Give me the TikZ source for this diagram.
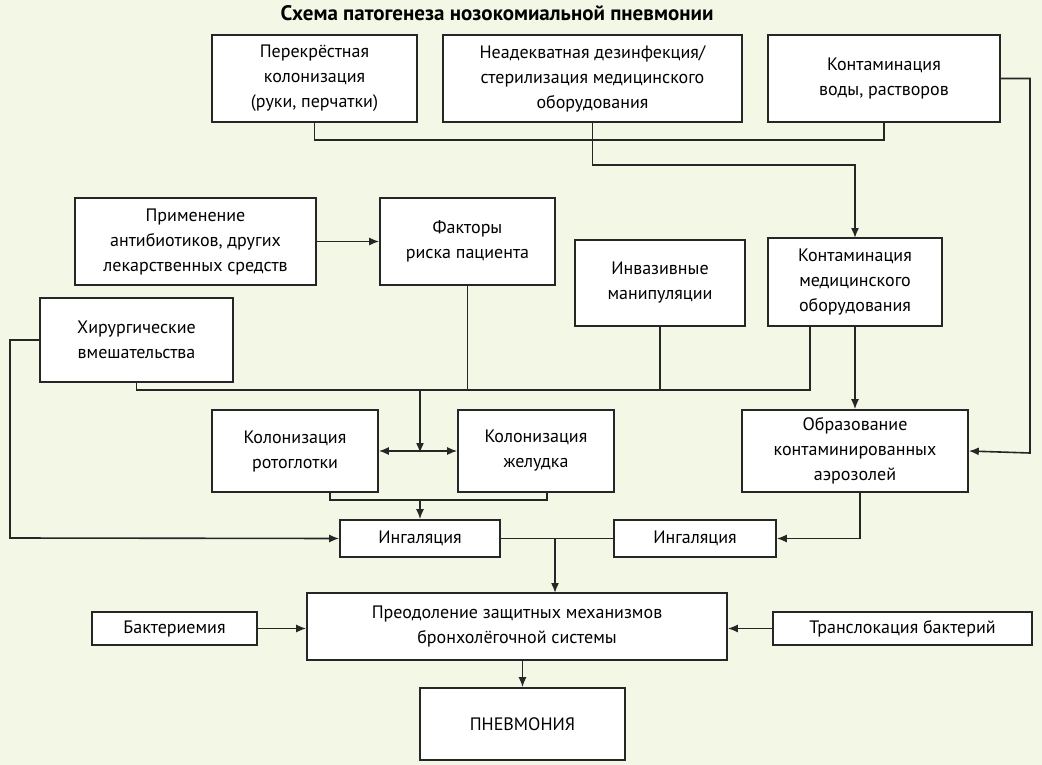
\documentclass[tikz,border=0pt]{standalone}
\usepackage{fontspec}
\setmainfont{PT Sans}
\usetikzlibrary{arrows.meta,positioning}
\definecolor{bgcol}{HTML}{F3F8E6}
\tikzset{box/.style={draw=black!85,line width=1.6pt,fill=white,align=center,inner sep=2pt,font=\fontsize{18}{25}\selectfont},
  flow/.style={line width=1.6pt,black!85},
  arr/.style={flow,-{Latex[length=10pt,width=8pt]}}}
\newcommand{\bx}[6]{\node[box,minimum width=#4-#2,minimum height=#5-#3] (#1) at ({(#2+#4)/2},{(#3+#5)/2}) {#6};}
\begin{document}
\begin{tikzpicture}[x=1pt,y=-1pt]
\fill[bgcol] (0,0) rectangle (1042,765);
\useasboundingbox (0,0) rectangle (1042,765);
\node[font=\bfseries\fontsize{21}{23}\selectfont] (title) at (497,13) {Схема патогенеза нозокомиальной пневмонии};

\bx{cross}{212}{35}{417}{122}{Перекрёстная\\колонизация\\(руки, перчатки)}
\bx{disinf}{443}{35}{742}{122}{Неадекватная дезинфекция/\\стерилизация медицинского\\оборудования}
\bx{water}{768}{35}{1000}{122}{Контаминация\\воды, растворов}
\bx{antib}{75}{198}{316}{285}{Применение\\антибиотиков, других\\лекарственных средств}
\bx{risk}{380}{198}{555}{285}{Факторы\\риска пациента}
\bx{invas}{575}{240}{745}{326}{Инвазивные\\манипуляции}
\bx{equip}{768}{238}{942}{326}{Контаминация\\медицинского\\оборудования}
\bx{surg}{40}{298}{233}{382}{Хирургические\\вмешательства}
\bx{oro}{212}{410}{378}{492}{Колонизация\\ротоглотки}
\bx{stom}{458}{410}{614}{492}{Колонизация\\желудка}
\bx{aero}{742}{410}{968}{492}{Образование\\контаминированных\\аэрозолей}
\bx{inhA}{340}{520}{500}{557}{Ингаляция}
\bx{inhB}{614}{520}{776}{557}{Ингаляция}
\bx{defense}{307}{593}{727}{660}{Преодоление защитных механизмов\\бронхолёгочной системы}
\bx{bact}{92}{612}{257}{645}{Бактериемия}
\bx{transl}{773}{612}{1032}{645}{Транслокация бактерий}
\bx{pneu}{420}{688}{625}{760}{ПНЕВМОНИЯ}

% top sources
\draw[flow] (cross.south) |- (592,140) -| (water.south);
\draw[arr] (disinf.south) |- (855,165) -- (855,238);
\draw[arr] (water.east) -| (1030,453) -- (aero.east);
\draw[arr] (antib.east) -- (antib.east -| risk.west);

% risk factors to colonization
\draw[flow] (surg.south) |- (810,390) -- (810,326);
\draw[flow] (risk.south) -- (risk.south |- 0,390);
\draw[flow] (invas.south) -- (invas.south |- 0,390);
\draw[arr] (420,390) -- (420,453);
\draw[flow,{Latex[length=10pt,width=8pt]}-{Latex[length=10pt,width=8pt]}] (oro.east) -- (stom.west);
\draw[arr] (855,326) -- (aero.north);

% inhalation
\draw[flow] (330,492) |- (547,500) -- (547,492);
\draw[arr] (420,500) -- (inhA.north);
\draw[arr] (surg.west) -| (10,538) -- (inhA.west);
\draw[arr] (860,492) |- (inhB.east);
\draw[flow] (inhA.east) -- (inhB.west);
\draw[arr] (555,538) -- (555,593);

% final
\draw[arr] (bact.east) -- (defense.west |- bact.east);
\draw[arr] (transl.west) -- (defense.east |- transl.west);
\draw[arr] (defense.south -| pneu.north) -- (pneu.north);
\end{tikzpicture}
\end{document}
